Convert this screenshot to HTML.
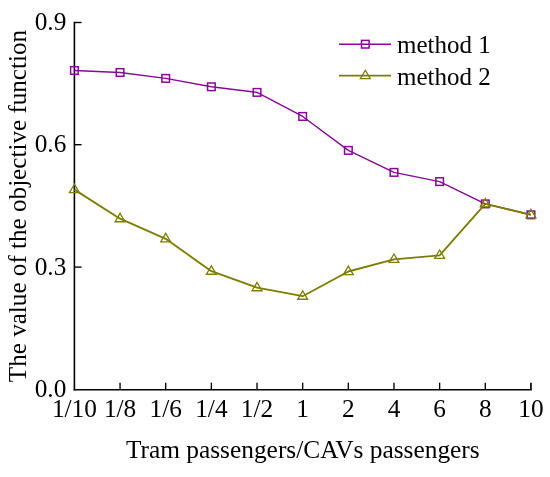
<!DOCTYPE html>
<html><head><meta charset="utf-8"><title>chart</title><style>html,body{margin:0;padding:0;background:#fff}</style></head><body>
<svg width="550" height="477" viewBox="0 0 550 477" style="display:block;font-family:'Liberation Serif',serif;font-size:25px">
<rect width="550" height="477" fill="#fff"/>
<g stroke="#000" stroke-width="1.6" fill="none">
<path d="M74.4 21.75V390.55"/>
<path d="M73.65 389.8H531.7"/>
<path d="M74.4 22.5H81.60000000000001" stroke-width="1.35"/>
<path d="M74.4 144.7H81.60000000000001" stroke-width="1.35"/>
<path d="M74.4 267.1H81.60000000000001" stroke-width="1.35"/>
<path d="M120.06 389.8V382.7" stroke-width="1.35"/>
<path d="M165.71 389.8V382.7" stroke-width="1.35"/>
<path d="M211.37 389.8V382.7" stroke-width="1.35"/>
<path d="M257.02 389.8V382.7" stroke-width="1.35"/>
<path d="M302.68 389.8V382.7" stroke-width="1.35"/>
<path d="M348.33 389.8V382.7" stroke-width="1.35"/>
<path d="M393.99 389.8V382.7" stroke-width="1.35"/>
<path d="M439.64 389.8V382.7" stroke-width="1.35"/>
<path d="M485.29 389.8V382.7" stroke-width="1.35"/>
<path d="M530.95 389.8V382.7" stroke-width="1.7"/>
</g>
<polyline points="74.40,70.50 120.06,72.50 165.71,78.40 211.37,86.80 257.02,92.40 302.68,116.45 348.33,150.40 393.99,172.40 439.64,181.60 485.29,203.90 530.95,214.80" fill="none" stroke="#840a94" stroke-width="1.4" stroke-linejoin="round"/>
<rect x="70.60" y="66.70" width="7.6" height="7.6" fill="none" stroke="#840a94" stroke-width="1.5"/>
<rect x="116.26" y="68.70" width="7.6" height="7.6" fill="none" stroke="#840a94" stroke-width="1.5"/>
<rect x="161.91" y="74.60" width="7.6" height="7.6" fill="none" stroke="#840a94" stroke-width="1.5"/>
<rect x="207.56" y="83.00" width="7.6" height="7.6" fill="none" stroke="#840a94" stroke-width="1.5"/>
<rect x="253.22" y="88.60" width="7.6" height="7.6" fill="none" stroke="#840a94" stroke-width="1.5"/>
<rect x="298.88" y="112.65" width="7.6" height="7.6" fill="none" stroke="#840a94" stroke-width="1.5"/>
<rect x="344.53" y="146.60" width="7.6" height="7.6" fill="none" stroke="#840a94" stroke-width="1.5"/>
<rect x="390.19" y="168.60" width="7.6" height="7.6" fill="none" stroke="#840a94" stroke-width="1.5"/>
<rect x="435.84" y="177.80" width="7.6" height="7.6" fill="none" stroke="#840a94" stroke-width="1.5"/>
<rect x="481.49" y="200.10" width="7.6" height="7.6" fill="none" stroke="#840a94" stroke-width="1.5"/>
<rect x="527.15" y="211.00" width="7.6" height="7.6" fill="none" stroke="#840a94" stroke-width="1.5"/>
<polyline points="74.40,189.60 120.06,218.70 165.71,238.80 211.37,271.20 257.02,287.70 302.68,296.20 348.33,271.50 393.99,259.40 439.64,255.40 485.29,203.90 530.95,214.80" fill="none" stroke="#7d7d00" stroke-width="1.85" stroke-linejoin="round"/>
<path d="M74.40 184.20L79.35 192.65H69.45Z" fill="none" stroke="#7d7d00" stroke-width="1.3"/>
<path d="M120.06 213.30L125.01 221.75H115.11Z" fill="none" stroke="#7d7d00" stroke-width="1.3"/>
<path d="M165.71 233.40L170.66 241.85H160.76Z" fill="none" stroke="#7d7d00" stroke-width="1.3"/>
<path d="M211.37 265.80L216.31 274.25H206.42Z" fill="none" stroke="#7d7d00" stroke-width="1.3"/>
<path d="M257.02 282.30L261.97 290.75H252.07Z" fill="none" stroke="#7d7d00" stroke-width="1.3"/>
<path d="M302.68 290.80L307.62 299.25H297.73Z" fill="none" stroke="#7d7d00" stroke-width="1.3"/>
<path d="M348.33 266.10L353.28 274.55H343.38Z" fill="none" stroke="#7d7d00" stroke-width="1.3"/>
<path d="M393.99 254.00L398.94 262.45H389.04Z" fill="none" stroke="#7d7d00" stroke-width="1.3"/>
<path d="M439.64 250.00L444.59 258.45H434.69Z" fill="none" stroke="#7d7d00" stroke-width="1.3"/>
<path d="M485.29 198.50L490.24 206.95H480.34Z" fill="none" stroke="#7d7d00" stroke-width="1.3"/>
<path d="M530.95 209.40L535.90 217.85H526.00Z" fill="none" stroke="#7d7d00" stroke-width="1.3"/>
<path d="M339 44.2H391" stroke="#840a94" stroke-width="1.4"/>
<rect x="361.50" y="40.40" width="7.6" height="7.6" fill="none" stroke="#840a94" stroke-width="1.5"/>
<path d="M339 75.65H391" stroke="#7d7d00" stroke-width="1.85"/>
<path d="M365.30 70.25L370.25 78.70H360.35Z" fill="none" stroke="#7d7d00" stroke-width="1.3"/>
<text x="397" y="52.5">method 1</text>
<text x="397" y="85">method 2</text>
<text x="66.3" y="30.1" text-anchor="end" font-size="25.3">0.9</text>
<text x="66.3" y="152.3" text-anchor="end" font-size="25.3">0.6</text>
<text x="66.3" y="274.7" text-anchor="end" font-size="25.3">0.3</text>
<text x="66.3" y="397.4" text-anchor="end" font-size="25.3">0.0</text>
<text x="74.40" y="417.3" text-anchor="middle" font-size="25.3">1/10</text>
<text x="120.06" y="417.3" text-anchor="middle" font-size="25.3">1/8</text>
<text x="165.71" y="417.3" text-anchor="middle" font-size="25.3">1/6</text>
<text x="211.37" y="417.3" text-anchor="middle" font-size="25.3">1/4</text>
<text x="257.02" y="417.3" text-anchor="middle" font-size="25.3">1/2</text>
<text x="302.68" y="417.3" text-anchor="middle" font-size="25.3">1</text>
<text x="348.33" y="417.3" text-anchor="middle" font-size="25.3">2</text>
<text x="393.99" y="417.3" text-anchor="middle" font-size="25.3">4</text>
<text x="439.64" y="417.3" text-anchor="middle" font-size="25.3">6</text>
<text x="485.29" y="417.3" text-anchor="middle" font-size="25.3">8</text>
<text x="530.95" y="417.3" text-anchor="middle" font-size="25.3">10</text>
<text x="302.8" y="457.9" text-anchor="middle" font-size="25.38">Tram passengers/CAVs passengers</text>
<text transform="translate(26 206.05) rotate(-90)" text-anchor="middle" font-size="25.13">The value of the objective function</text>
</svg>
</body></html>
